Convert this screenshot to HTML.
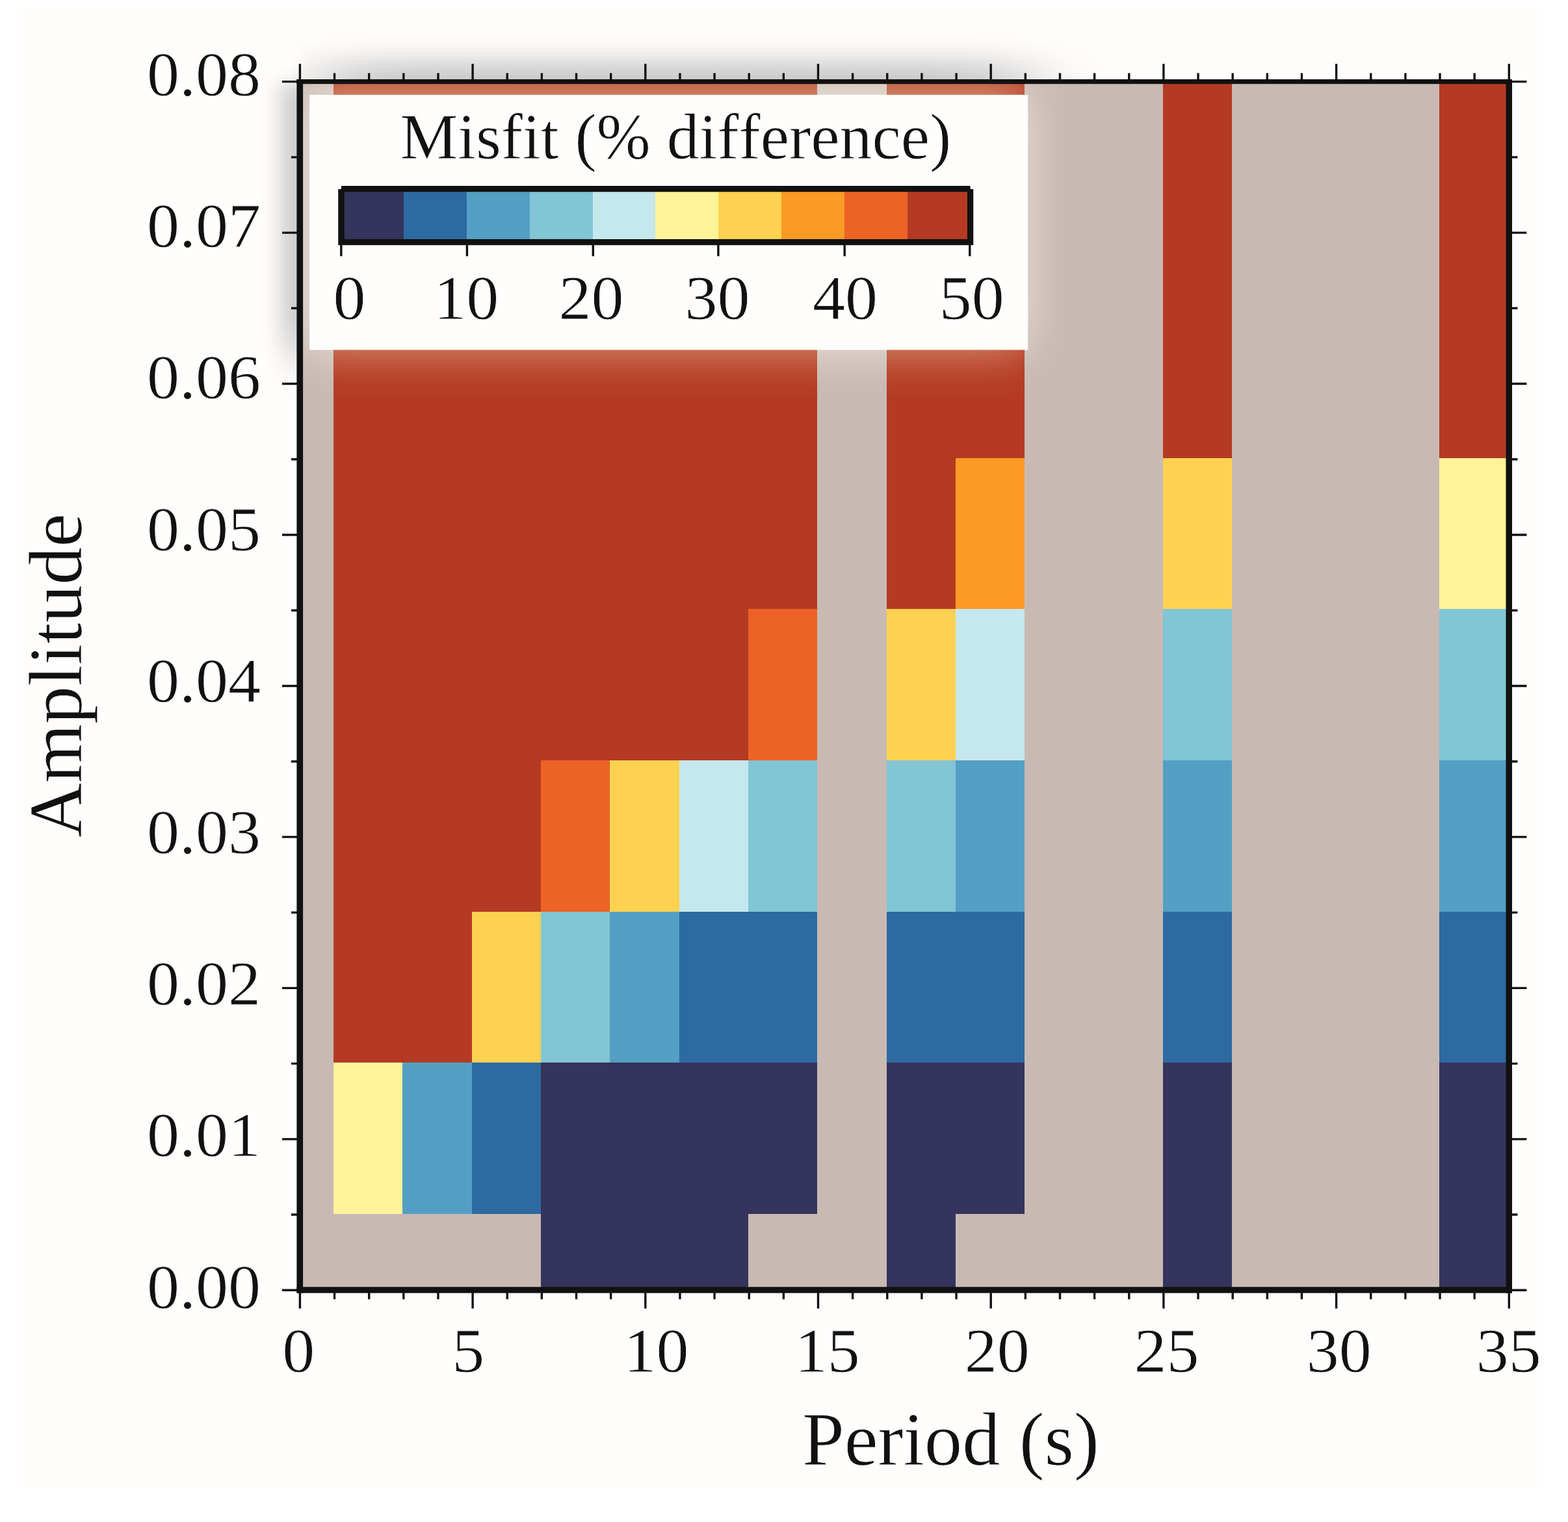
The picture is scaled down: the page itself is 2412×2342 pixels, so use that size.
<!DOCTYPE html>
<html lang="en"><head><meta charset="utf-8"><title>Misfit (% difference) &#8211; Amplitude vs Period (s)</title>
<style>
html,body{margin:0;padding:0;background:#fff;}
body{width:2412px;height:2342px;overflow:hidden;}
svg{display:block;}
text{font-family:"Liberation Serif","DejaVu Serif",serif;fill:#111111;stroke:#fffefc;stroke-width:0.8px;paint-order:fill stroke;font-variant-ligatures:none;font-kerning:none;text-rendering:geometricPrecision;}
.t100{font-size:100px;}
.t117{font-size:116.7px;}
</style></head><body>
<svg width="2412" height="2342" viewBox="0 0 2412 2342" role="img" aria-label="Heat map of misfit (% difference) as a function of period (s) and amplitude">
<defs>
<filter id="fBlur" filterUnits="userSpaceOnUse" x="320" y="-13" width="1406" height="697" color-interpolation-filters="sRGB"><feGaussianBlur stdDeviation="37"/></filter>
<filter id="fBlurL" filterUnits="userSpaceOnUse" x="250" y="20" width="760" height="700" color-interpolation-filters="sRGB"><feGaussianBlur stdDeviation="16 14"/></filter>
<filter id="fBlurT" filterUnits="userSpaceOnUse" x="100" y="-60" width="1900" height="700" color-interpolation-filters="sRGB"><feGaussianBlur stdDeviation="65 22"/></filter>
<filter id="fBlurLb" filterUnits="userSpaceOnUse" x="250" y="100" width="760" height="700" color-interpolation-filters="sRGB"><feGaussianBlur stdDeviation="16 35"/></filter>
<clipPath id="cLeft"><rect x="0" y="0" width="461" height="340"/></clipPath>
<clipPath id="cLeftB"><rect x="0" y="340" width="461" height="500"/></clipPath>
<linearGradient id="gTop" gradientUnits="userSpaceOnUse" x1="448" y1="0" x2="470" y2="0"><stop offset="0" stop-color="#fff" stop-opacity="0"/><stop offset="1" stop-color="#fff" stop-opacity="1"/></linearGradient>
<mask id="mTop" maskUnits="userSpaceOnUse" x="0" y="0" width="2412" height="125"><rect x="0" y="0" width="2412" height="125" fill="url(#gTop)"/></mask>
<filter id="fSoft" filterUnits="userSpaceOnUse" x="-20" y="-20" width="2452" height="2382" color-interpolation-filters="sRGB"><feGaussianBlur stdDeviation="0.7"/></filter>
<clipPath id="cPlot"><rect x="460.4" y="125" width="1861.6" height="1860.7"/></clipPath>
<clipPath id="cRed"><rect x="512.92" y="125" width="744.32" height="575"/><rect x="1363.57" y="125" width="212.66" height="575"/></clipPath>
</defs>
<g filter="url(#fSoft)">
<rect x="-20" y="-20" width="2452" height="2382" fill="#ffffff"/>
<rect x="26" y="13" width="2347" height="2277" fill="#fffefc"/>
<g clip-path="url(#cLeft)"><rect x="432" y="128" width="468" height="520" fill="#000010" fill-opacity="0.196" filter="url(#fBlurL)"/></g>
<g clip-path="url(#cLeftB)"><rect x="432" y="140" width="468" height="403" fill="#000010" fill-opacity="0.196" filter="url(#fBlurLb)"/></g>
<g mask="url(#mTop)"><rect x="495" y="94" width="1082" height="406" fill="#000010" fill-opacity="0.215" filter="url(#fBlurT)"/></g>
<g shape-rendering="crispEdges">
<rect x="460.4" y="125" width="1861.6" height="1860.7" fill="#c8bab3"/>
</g>
<g clip-path="url(#cPlot)"><rect x="468" y="135" width="1110" height="401" fill="#fffaf0" fill-opacity="0.66" filter="url(#fBlur)"/></g>
<g shape-rendering="crispEdges">
<rect x="512.92" y="1635.3" width="106.33" height="232.7" fill="#fef399"/>
<rect x="512.92" y="125" width="106.33" height="1510.3" fill="#b53a24"/>
<rect x="619.25" y="1635.3" width="106.33" height="232.7" fill="#549fc4"/>
<rect x="619.25" y="125" width="106.33" height="1510.3" fill="#b53a24"/>
<rect x="725.58" y="1635.3" width="106.33" height="232.7" fill="#2e6aa2"/>
<rect x="725.58" y="1402.6" width="106.33" height="232.7" fill="#fed250"/>
<rect x="725.58" y="125" width="106.33" height="1277.6" fill="#b53a24"/>
<rect x="831.91" y="1635.3" width="106.33" height="350.4" fill="#34345c"/>
<rect x="831.91" y="1402.6" width="106.33" height="232.7" fill="#82c5d4"/>
<rect x="831.91" y="1169.9" width="106.33" height="232.7" fill="#ed6326"/>
<rect x="831.91" y="125" width="106.33" height="1044.9" fill="#b53a24"/>
<rect x="938.24" y="1635.3" width="106.33" height="350.4" fill="#34345c"/>
<rect x="938.24" y="1402.6" width="106.33" height="232.7" fill="#549fc4"/>
<rect x="938.24" y="1169.9" width="106.33" height="232.7" fill="#fed250"/>
<rect x="938.24" y="125" width="106.33" height="1044.9" fill="#b53a24"/>
<rect x="1044.58" y="1635.3" width="106.33" height="350.4" fill="#34345c"/>
<rect x="1044.58" y="1402.6" width="106.33" height="232.7" fill="#2e6aa2"/>
<rect x="1044.58" y="1169.9" width="106.33" height="232.7" fill="#c5e8ee"/>
<rect x="1044.58" y="125" width="106.33" height="1044.9" fill="#b53a24"/>
<rect x="1150.91" y="1635.3" width="106.33" height="232.7" fill="#34345c"/>
<rect x="1150.91" y="1402.6" width="106.33" height="232.7" fill="#2e6aa2"/>
<rect x="1150.91" y="1169.9" width="106.33" height="232.7" fill="#82c5d4"/>
<rect x="1150.91" y="937.2" width="106.33" height="232.7" fill="#ed6326"/>
<rect x="1150.91" y="125" width="106.33" height="812.2" fill="#b53a24"/>
<rect x="1363.57" y="1635.3" width="106.33" height="350.4" fill="#34345c"/>
<rect x="1363.57" y="1402.6" width="106.33" height="232.7" fill="#2e6aa2"/>
<rect x="1363.57" y="1169.9" width="106.33" height="232.7" fill="#82c5d4"/>
<rect x="1363.57" y="937.2" width="106.33" height="232.7" fill="#fed250"/>
<rect x="1363.57" y="125" width="106.33" height="812.2" fill="#b53a24"/>
<rect x="1469.9" y="1635.3" width="106.33" height="232.7" fill="#34345c"/>
<rect x="1469.9" y="1402.6" width="106.33" height="232.7" fill="#2e6aa2"/>
<rect x="1469.9" y="1169.9" width="106.33" height="232.7" fill="#549fc4"/>
<rect x="1469.9" y="937.2" width="106.33" height="232.7" fill="#c5e8ee"/>
<rect x="1469.9" y="704.5" width="106.33" height="232.7" fill="#fd9a26"/>
<rect x="1469.9" y="125" width="106.33" height="579.5" fill="#b53a24"/>
<rect x="1788.9" y="1635.3" width="106.33" height="350.4" fill="#34345c"/>
<rect x="1788.9" y="1402.6" width="106.33" height="232.7" fill="#2e6aa2"/>
<rect x="1788.9" y="1169.9" width="106.33" height="232.7" fill="#549fc4"/>
<rect x="1788.9" y="937.2" width="106.33" height="232.7" fill="#82c5d4"/>
<rect x="1788.9" y="704.5" width="106.33" height="232.7" fill="#fed250"/>
<rect x="1788.9" y="125" width="106.33" height="579.5" fill="#b53a24"/>
<rect x="2214.23" y="1635.3" width="107.77" height="350.4" fill="#34345c"/>
<rect x="2214.23" y="1402.6" width="107.77" height="232.7" fill="#2e6aa2"/>
<rect x="2214.23" y="1169.9" width="107.77" height="232.7" fill="#549fc4"/>
<rect x="2214.23" y="937.2" width="107.77" height="232.7" fill="#82c5d4"/>
<rect x="2214.23" y="704.5" width="107.77" height="232.7" fill="#fef399"/>
<rect x="2214.23" y="125" width="107.77" height="579.5" fill="#b53a24"/>
</g>
<g clip-path="url(#cRed)"><rect x="468" y="135" width="1110" height="401" fill="#ffffd5" fill-opacity="0.54" filter="url(#fBlur)"/></g>
<g fill="#111111">
<rect x="456.4" y="122" width="9.7" height="1867.7"/>
<rect x="2316.5" y="122" width="9.5" height="1867.7"/>
<rect x="456.4" y="122" width="1869.6" height="7.2"/>
<rect x="456.4" y="1980.3" width="1869.6" height="9.4"/>
</g>
<path d="M461.4 1988.7V2013.5M461.4 123V98.2M514.54 1988.7V1999.3M514.54 123V112.4M567.68 1988.7V1999.3M567.68 123V112.4M620.82 1988.7V1999.3M620.82 123V112.4M673.96 1988.7V1999.3M673.96 123V112.4M727.1 1988.7V2013.5M727.1 123V98.2M780.24 1988.7V1999.3M780.24 123V112.4M833.38 1988.7V1999.3M833.38 123V112.4M886.52 1988.7V1999.3M886.52 123V112.4M939.66 1988.7V1999.3M939.66 123V112.4M992.8 1988.7V2013.5M992.8 123V98.2M1045.94 1988.7V1999.3M1045.94 123V112.4M1099.08 1988.7V1999.3M1099.08 123V112.4M1152.22 1988.7V1999.3M1152.22 123V112.4M1205.36 1988.7V1999.3M1205.36 123V112.4M1258.5 1988.7V2013.5M1258.5 123V98.2M1311.64 1988.7V1999.3M1311.64 123V112.4M1364.78 1988.7V1999.3M1364.78 123V112.4M1417.92 1988.7V1999.3M1417.92 123V112.4M1471.06 1988.7V1999.3M1471.06 123V112.4M1524.2 1988.7V2013.5M1524.2 123V98.2M1577.34 1988.7V1999.3M1577.34 123V112.4M1630.48 1988.7V1999.3M1630.48 123V112.4M1683.62 1988.7V1999.3M1683.62 123V112.4M1736.76 1988.7V1999.3M1736.76 123V112.4M1789.9 1988.7V2013.5M1789.9 123V98.2M1843.04 1988.7V1999.3M1843.04 123V112.4M1896.18 1988.7V1999.3M1896.18 123V112.4M1949.32 1988.7V1999.3M1949.32 123V112.4M2002.46 1988.7V1999.3M2002.46 123V112.4M2055.6 1988.7V2013.5M2055.6 123V98.2M2108.74 1988.7V1999.3M2108.74 123V112.4M2161.88 1988.7V1999.3M2161.88 123V112.4M2215.02 1988.7V1999.3M2215.02 123V112.4M2268.16 1988.7V1999.3M2268.16 123V112.4M2321.3 1988.7V2013.5M2321.3 123V98.2M457.4 1985.3H434M2325 1985.3H2348.4M457.4 1869.07H448M2325 1869.07H2334.4M457.4 1752.84H434M2325 1752.84H2348.4M457.4 1636.61H448M2325 1636.61H2334.4M457.4 1520.38H434M2325 1520.38H2348.4M457.4 1404.15H448M2325 1404.15H2334.4M457.4 1287.92H434M2325 1287.92H2348.4M457.4 1171.69H448M2325 1171.69H2334.4M457.4 1055.46H434M2325 1055.46H2348.4M457.4 939.23H448M2325 939.23H2334.4M457.4 823H434M2325 823H2348.4M457.4 706.77H448M2325 706.77H2334.4M457.4 590.54H434M2325 590.54H2348.4M457.4 474.31H448M2325 474.31H2334.4M457.4 358.08H434M2325 358.08H2348.4M457.4 241.85H448M2325 241.85H2334.4M457.4 125.62H434M2325 125.62H2348.4" stroke="#111111" stroke-width="3.4" fill="none"/>
<g class="t100">
<text transform="translate(225.9 147.05) scale(1 0.965)">0.08</text>
<text transform="translate(225.9 380.25) scale(1 0.965)">0.07</text>
<text transform="translate(225.9 613.45) scale(1 0.965)">0.06</text>
<text transform="translate(225.9 846.65) scale(1 0.965)">0.05</text>
<text transform="translate(225.9 1079.85) scale(1 0.965)">0.04</text>
<text transform="translate(225.9 1313.05) scale(1 0.965)">0.03</text>
<text transform="translate(225.9 1546.25) scale(1 0.965)">0.02</text>
<text transform="translate(225.9 1779.45) scale(1 0.965)">0.01</text>
<text transform="translate(225.9 2012.65) scale(1 0.965)">0.00</text>
<text transform="translate(434.3 2110.55) scale(1 0.965)">0</text>
<text transform="translate(695.3 2110.55) scale(1 0.965)">5</text>
<text transform="translate(959.4 2110.55) scale(1 0.965)">10</text>
<text transform="translate(1222.7 2110.55) scale(1 0.965)">15</text>
<text transform="translate(1483.7 2110.55) scale(1 0.965)">20</text>
<text transform="translate(1744.5 2110.55) scale(1 0.965)">25</text>
<text transform="translate(2009.7 2110.55) scale(1 0.965)">30</text>
<text transform="translate(2270.7 2110.55) scale(1 0.965)">35</text>
</g>
<text class="t117" x="1233.9" y="2254.4">Period (s)</text>
<text class="t117" transform="translate(124.5 1289) rotate(-90)">Amplitude</text>
<rect x="476.1" y="145.9" width="1105.1" height="392.5" fill="#fffefc"/>
<text class="t100" transform="translate(615.5 243.9) scale(0.9978 1)">Misfit (% difference)</text>
<g shape-rendering="crispEdges">
<rect x="524.9" y="290.6" width="97.07" height="82.05" fill="#34345c"/>
<rect x="621.37" y="290.6" width="97.07" height="82.05" fill="#2e6aa2"/>
<rect x="718.14" y="290.6" width="97.07" height="82.05" fill="#549fc4"/>
<rect x="814.91" y="290.6" width="97.07" height="82.05" fill="#82c5d4"/>
<rect x="911.68" y="290.6" width="97.07" height="82.05" fill="#c5e8ee"/>
<rect x="1008.45" y="290.6" width="97.07" height="82.05" fill="#fef399"/>
<rect x="1105.22" y="290.6" width="97.07" height="82.05" fill="#fed250"/>
<rect x="1201.99" y="290.6" width="97.07" height="82.05" fill="#fd9a26"/>
<rect x="1298.76" y="290.6" width="97.07" height="82.05" fill="#ed6326"/>
<rect x="1395.53" y="290.6" width="97.07" height="82.05" fill="#b53a24"/>
</g>
<path d="M524.9 290.6H1492.6 M524.9 291V372.65H1492.6V291" stroke="#111111" stroke-width="9.3" fill="none" stroke-linejoin="miter"/>
<path d="M524.8 375.65V394.2M718.4 375.65V394.2M912.3 375.65V394.2M1104.9 375.65V394.2M1299.2 375.65V394.2M1491.8 375.65V394.2" stroke="#111111" stroke-width="3.4" fill="none"/>
<g class="t100">
<text transform="translate(512.6 490.95) scale(1 0.965)">0</text>
<text transform="translate(667.2 490.95) scale(1 0.965)">10</text>
<text transform="translate(859.4 490.95) scale(1 0.965)">20</text>
<text transform="translate(1053.5 490.95) scale(1 0.965)">30</text>
<text transform="translate(1250 490.95) scale(1 0.965)">40</text>
<text transform="translate(1444.7 490.95) scale(1 0.965)">50</text>
</g>
</g>
</svg>
</body></html>
